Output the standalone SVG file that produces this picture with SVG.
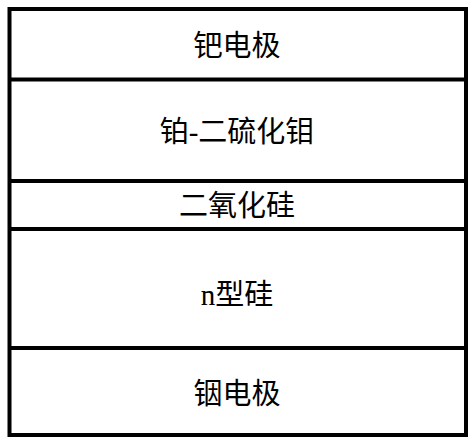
<svg xmlns="http://www.w3.org/2000/svg" width="474" height="445" viewBox="0 0 474 445">
<style>
.box{fill:#fff;stroke:#000;stroke-width:4}
.div{stroke:#000;stroke-width:4}
.t{font-family:"Liberation Serif","Noto Sans CJK SC",sans-serif;font-size:29px;fill:#000;text-anchor:middle;dominant-baseline:central}
</style>
<rect x="0" y="0" width="474" height="445" fill="#fff"/>
<g id="stack">
<rect class="box" x="9.5" y="9" width="456.5" height="426"/>
</g>
<g id="dividers">
<line class="div" x1="9.5" y1="79.5" x2="466" y2="79.5"/>
<line class="div" x1="9.5" y1="181" x2="466" y2="181"/>
<line class="div" x1="9.5" y1="229" x2="466" y2="229"/>
<line class="div" x1="9.5" y1="348" x2="466" y2="348"/>
</g>
<g id="layer1"><text class="t" x="237" y="46">钯电极</text></g>
<g id="layer2"><text class="t" x="237" y="132">铂-二硫化钼</text></g>
<g id="layer3"><text class="t" x="237" y="206">二氧化硅</text></g>
<g id="layer4"><text class="t" x="237" y="295">n型硅</text></g>
<g id="layer5"><text class="t" x="237" y="394">铟电极</text></g>
</svg>
